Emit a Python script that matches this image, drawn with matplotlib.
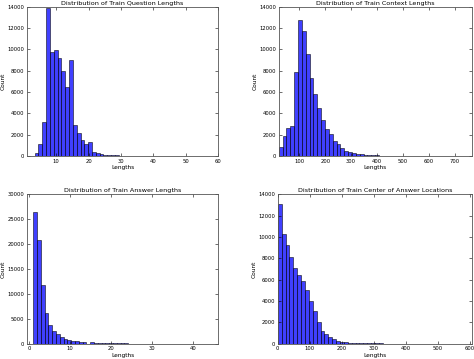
import numpy as np
import matplotlib
matplotlib.use("Agg")
import matplotlib.pyplot as plt

# ---- data (bin ranges and counts) ----
q_range = (1.0, 60.0)
q_counts = [0, 0, 300, 1150, 3130, 13900, 9770, 9920, 9200, 7950,
            6510, 8980, 2940, 2130, 1470, 1100, 1280, 380, 250, 160,
            120, 90, 80, 30, 20, 10, 5, 15, 0, 0,
            0, 0, 0, 0, 0, 0, 0, 0, 0, 0,
            0, 0, 0, 0, 0, 0, 0, 0, 0, 0]

c_range = (20.0, 766.0)
c_counts = [810, 1900, 2600, 2820, 7830, 12800, 11770, 9580, 7290, 5820,
            4500, 3380, 2540, 2030, 1350, 1130, 690, 470, 340, 250,
            190, 125, 95, 60, 40, 30, 20, 15, 10, 8,
            0, 0, 0, 0, 0, 0, 0, 0, 0, 0,
            0, 0, 0, 0, 0, 0, 0, 0, 0, 0]

a_range = (1.0, 47.3)
a_counts = [26400, 20770, 11730, 6100, 3820, 2480, 1880, 1400, 940, 740,
            600, 540, 400, 270, 0, 220, 170, 130, 100, 80,
            60, 40, 30, 20, 15, 10, 8, 5, 0, 0,
            0, 0, 0, 0, 0, 0, 0, 0, 0, 0,
            0, 0, 0, 0, 0, 0, 0, 0, 0, 0]

l_range = (0.0, 607.0)
l_counts = [13100, 10300, 9280, 8090, 7060, 6400, 5880, 5060, 4000, 3090,
            2030, 1190, 875, 590, 400, 280, 190, 120, 90, 60,
            45, 30, 20, 15, 10, 8, 6, 4, 3, 2,
            0, 0, 0, 0, 0, 0, 0, 0, 0, 0,
            0, 0, 0, 0, 0, 0, 0, 0, 0, 0]

titles = ["Distribution of Train Question Lengths",
          "Distribution of Train Context Lengths",
          "Distribution of Train Answer Lengths",
          "Distribution of Train Center of Answer Locations"]

xlims = [(1, 60), (20, 768), (-0.5, 46), (0, 607)]
xticks = [[10, 20, 30, 40, 50, 60], [100, 200, 300, 400, 500, 600, 700],
          [0, 10, 20, 30, 40], [0, 100, 200, 300, 400, 500, 600]]
ylims = [(0, 14000), (0, 14000), (0, 30000), (0, 14000)]
ysteps = [2000, 2000, 5000, 2000]

fig = plt.figure(figsize=(4.74, 3.59), dpi=100)
positions = [[0.057, 0.566, 0.403, 0.415],
             [0.588, 0.566, 0.408, 0.415],
             [0.057, 0.043, 0.403, 0.416],
             [0.586, 0.043, 0.410, 0.416]]

datasets = [(q_range, q_counts), (c_range, c_counts),
            (a_range, a_counts), (l_range, l_counts)]

for i, ((lo, hi), counts) in enumerate(datasets):
    ax = fig.add_axes(positions[i])
    edges = np.linspace(lo, hi, len(counts) + 1)
    ax.bar(edges[:-1], counts, width=np.diff(edges), align='edge',
           color='blue', alpha=0.75, edgecolor='black', linewidth=0.5)
    ax.set_xlim(*xlims[i])
    ax.set_ylim(*ylims[i])
    ax.set_xticks(xticks[i])
    ax.set_yticks(np.arange(0, ylims[i][1] + 1, ysteps[i]))
    ax.tick_params(direction='in', top=True, right=True, labelsize=3.8,
                   length=2, width=0.4, pad=2)
    for s in ax.spines.values():
        s.set_linewidth(0.6)
        s.set_color('#555555')
    ax.set_title(titles[i], fontsize=4.6, pad=1.5)
    ax.set_xlabel("Lengths", fontsize=4.2, labelpad=1)
    ax.set_ylabel("Count", fontsize=4.2, labelpad=1)

fig.savefig("out.png", dpi=100)
